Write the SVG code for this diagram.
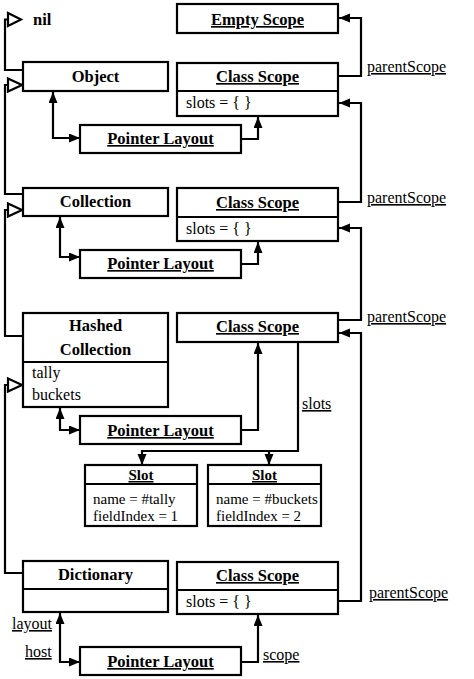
<svg xmlns="http://www.w3.org/2000/svg" width="474" height="679" viewBox="0 0 474 679">
<style>
.box{fill:#fff;stroke:#000;stroke-width:2.2}
.ln{fill:none;stroke:#000;stroke-width:2.2}
.a{marker-end:url(#ah)}
.aa{marker-start:url(#ah);marker-end:url(#ah)}
.tri{fill:#fff;stroke:#000;stroke-width:2.2;stroke-linejoin:miter}
text{font-family:'Liberation Serif','DejaVu Serif',serif}
.b{font-weight:bold;font-size:16.5px;text-anchor:middle}
.u{text-decoration:underline}
.n{font-size:16px}
.s{font-size:15px}
.sb{font-size:15px;font-weight:bold;text-anchor:middle;text-decoration:underline}
</style>
<defs>
<marker id="ah" markerUnits="userSpaceOnUse" markerWidth="12" markerHeight="10" refX="11" refY="4.5" orient="auto-start-reverse">
<path d="M0,0 L11,4.5 L0,9 z" fill="#000"/>
</marker>
</defs>

<g id="connectors">
<path class="ln" d="M23,70 H5 V19.5 H8"/>
<polygon class="tri" points="8,13 21,19.5 8,26"/>
<path class="ln" d="M23,194 H5 V85 H8"/>
<polygon class="tri" points="8,78.5 22,85 8,91.5"/>
<path class="ln" d="M23,336 H5 V210 H8"/>
<polygon class="tri" points="8,203.5 22,210 8,216.5"/>
<path class="ln" d="M23,573 H5 V385 H8"/>
<polygon class="tri" points="8,378.5 22,385 8,391.5"/>
<path class="ln aa" d="M53,92 V138 H80"/>
<path class="ln aa" d="M60,217 V257 H80"/>
<path class="ln aa" d="M60,408 V430 H80"/>
<path class="ln aa" d="M60,613 V662 H80"/>
<path class="ln a" d="M241,139 H258 V117"/>
<path class="ln a" d="M241,264 H258 V242"/>
<path class="ln a" d="M241,430 H258 V343"/>
<path class="ln a" d="M241,662 H258 V615"/>
<path class="ln a" d="M338,76 H361 V18 H339"/>
<path class="ln a" d="M338,202 H361 V103 H339"/>
<path class="ln a" d="M338,320 H361 V228 H339"/>
<path class="ln a" d="M338,601 H361 V333 H339"/>
<path class="ln a" d="M298,342 V451 H142 V465"/>
<path class="ln a" d="M269,451 V465"/>
<text class="n u" x="367" y="72">parentScope</text>
<text class="n u" x="367" y="203">parentScope</text>
<text class="n u" x="367" y="322">parentScope</text>
<text class="n u" x="369" y="598">parentScope</text>
<text class="n u" x="302" y="409">slots</text>
<text class="n u" x="12" y="629">layout</text>
<text class="n u" x="25" y="657">host</text>
<text class="n u" x="263" y="660">scope</text>
</g>

<g id="nil">
<text class="b" x="33" y="25" style="text-anchor:start">nil</text>
</g>

<g id="empty-scope">
<rect class="box" x="177" y="4" width="161" height="29"/>
<text class="b u" x="257.5" y="25">Empty Scope</text>
</g>

<g id="object">
<rect class="box" x="23" y="62" width="145" height="29"/>
<text class="b" x="95.5" y="82">Object</text>
</g>

<g id="class-scope-1">
<rect class="box" x="177" y="63" width="161" height="53"/>
<line class="ln" x1="177" y1="91" x2="338" y2="91"/>
<text class="b u" x="257.5" y="82">Class Scope</text>
<text class="n" x="186" y="108">slots = { }</text>
</g>

<g id="pointer-layout-1">
<rect class="box" x="80" y="125" width="161" height="28"/>
<text class="b u" x="160.5" y="144">Pointer Layout</text>
</g>

<g id="collection">
<rect class="box" x="23" y="188" width="145" height="28"/>
<text class="b" x="95.5" y="207">Collection</text>
</g>

<g id="class-scope-2">
<rect class="box" x="177" y="188" width="161" height="53"/>
<line class="ln" x1="177" y1="217" x2="338" y2="217"/>
<text class="b u" x="257.5" y="208">Class Scope</text>
<text class="n" x="186" y="234">slots = { }</text>
</g>

<g id="pointer-layout-2">
<rect class="box" x="80" y="250" width="161" height="28"/>
<text class="b u" x="160.5" y="269">Pointer Layout</text>
</g>

<g id="hashed-collection">
<rect class="box" x="23" y="313" width="145" height="94"/>
<line class="ln" x1="23" y1="362" x2="168" y2="362"/>
<text class="b" x="95.5" y="331">Hashed</text>
<text class="b" x="95.5" y="355">Collection</text>
<text class="n" x="32" y="378">tally</text>
<text class="n" x="32" y="400">buckets</text>
</g>

<g id="class-scope-3">
<rect class="box" x="177" y="313" width="161" height="29"/>
<text class="b u" x="257.5" y="332">Class Scope</text>
</g>

<g id="pointer-layout-3">
<rect class="box" x="80" y="416" width="161" height="28"/>
<text class="b u" x="160.5" y="436">Pointer Layout</text>
</g>

<g id="slot-1">
<rect class="box" x="85" y="465" width="112" height="61"/>
<line class="ln" x1="85" y1="484" x2="197" y2="484"/>
<text class="sb" x="141" y="480">Slot</text>
<text class="s" x="93" y="504">name = #tally</text>
<text class="s" x="93" y="521">fieldIndex = 1</text>
</g>

<g id="slot-2">
<rect class="box" x="208" y="465" width="113" height="61"/>
<line class="ln" x1="208" y1="484" x2="321" y2="484"/>
<text class="sb" x="264.5" y="480">Slot</text>
<text class="s" x="216" y="504">name = #buckets</text>
<text class="s" x="216" y="521">fieldIndex = 2</text>
</g>

<g id="dictionary">
<rect class="box" x="23" y="561" width="145" height="51"/>
<line class="ln" x1="23" y1="589" x2="168" y2="589"/>
<text class="b" x="95.5" y="580">Dictionary</text>
</g>

<g id="class-scope-4">
<rect class="box" x="177" y="562" width="161" height="52"/>
<line class="ln" x1="177" y1="590" x2="338" y2="590"/>
<text class="b u" x="257.5" y="581">Class Scope</text>
<text class="n" x="186" y="607">slots = { }</text>
</g>

<g id="pointer-layout-4">
<rect class="box" x="80" y="647" width="161" height="28"/>
<text class="b u" x="160.5" y="667">Pointer Layout</text>
</g>
</svg>
